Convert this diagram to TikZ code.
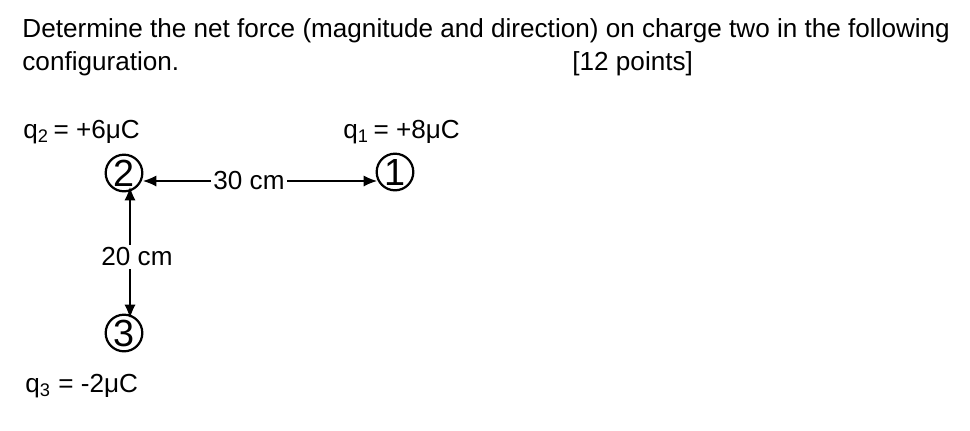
\documentclass[tikz,border=0pt]{standalone}
\usepackage{fontspec}
\setmainfont{Liberation Sans}
\usetikzlibrary{arrows.meta}

\tikzstyle{charge}=[circle, draw, line width=1pt, minimum size=16.5pt, inner sep=0pt, font=\fontsize{17}{18}\selectfont]
\tikzstyle{txt}=[anchor=base west, inner sep=0pt, font=\fontsize{11.75}{14}\selectfont]
\tikzstyle{dist}=[inner sep=1pt, fill=white, font=\fontsize{11.75}{14}\selectfont]
\tikzstyle{arr}=[-{Latex[length=6pt,width=5pt]}, line width=0.6pt]

\begin{document}
\begin{tikzpicture}[x=0.45pt, y=-0.45pt]
\useasboundingbox (0,0) rectangle (970,430);

\node[txt](title1) at (22, 37) {Determine the net force (magnitude and direction) on charge two in the following};
\node[txt](title2) at (22, 70) {configuration.};
\node[txt](pts) at (572, 70) {[12 points]};

\node[txt](q2lbl) at (23, 138) {q\textsubscript{2}\,= +6μC};
\node[txt](q1lbl) at (343, 138) {q\textsubscript{1}\,= +8μC};
\node[txt](q3lbl) at (25, 392) {q\textsubscript{3} = -2μC};

\node[charge](c2) at (124, 173) {2};
\node[charge](c1) at (395, 172) {1};
\node[charge](c3) at (124, 333) {3};

\node[dist](d30) at (249, 181) {30 cm};
\node[dist](d20) at (137, 257) {20 cm};

\coordinate (h2) at (143, 181);
\coordinate (h1) at (377, 181);
\coordinate (v2) at (130, 187);
\coordinate (v3) at (130, 318);

\begin{scope}[every path/.style={arr}]
       \draw (d30.west) -- (h2);
       \draw (d30.east) -- (h1);
       \draw (d20.north -| v2) -- (v2);
       \draw (d20.south -| v3) -- (v3);
\end{scope}
\end{tikzpicture}
\end{document}
